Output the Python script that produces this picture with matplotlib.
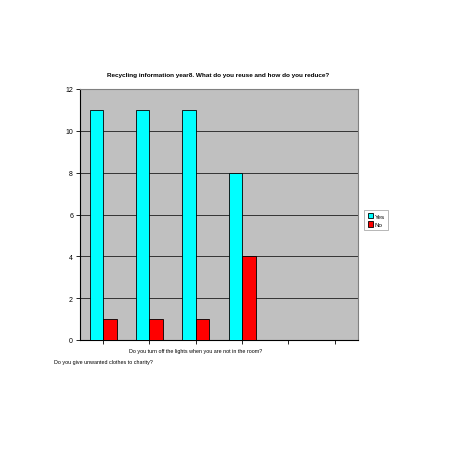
import matplotlib.pyplot as plt
import numpy as np

plt.rcParams['font.family'] = ['Liberation Sans', 'DejaVu Sans']

# Chart data
categories = ["Do you give unwanted clothes to charity?", "",
              "Do you turn off the lights when you are not in the room?", "",
              "", ""]
yes_values = [11, 11, 11, 8, 0, 0]
no_values = [1, 1, 1, 4, 0, 0]
y_ticks = [0, 2, 4, 6, 8, 10, 12]

fig = plt.figure(figsize=(4.52, 4.52), dpi=100)
ax = fig.add_axes([80 / 452, 1 - 341 / 452, 278 / 452, 251 / 452])
ax.set_facecolor("#C0C0C0")

x = np.arange(len(categories))
w = 0.29
ax.bar(x - w / 2, yes_values, w, color="#00FFFF", edgecolor="black", linewidth=0.6,
       label="Yes", zorder=3)
ax.bar(x + w / 2, no_values, w, color="#FF0000", edgecolor="black", linewidth=0.6,
       label="No", zorder=3)

ax.set_xlim(-0.5, len(categories) - 0.5)
ax.set_ylim(0, 12)
ax.set_yticks(y_ticks)
ax.tick_params(axis="y", labelsize=5, length=3, width=0.6, pad=2)
ax.yaxis.grid(True, color="#333333", linewidth=0.7, zorder=0)

ax.set_xticks(x)
ax.set_xticklabels([])
ax.tick_params(axis="x", length=3, width=0.6, direction="out")

# staggered category labels
for i, lab in enumerate(categories):
    if lab:
        ax.annotate(lab, xy=(i, 0), xycoords=("data", "axes fraction"),
                    xytext=(0, -7.5 if i % 4 == 2 else -15.5), textcoords="offset points",
                    ha="center", va="center", fontsize=3.85)

for side in ["top", "right"]:
    ax.spines[side].set_color("#808080")
for side in ["left", "bottom"]:
    ax.spines[side].set_color("black")
for s in ax.spines.values():
    s.set_linewidth(0.8)

fig.text(218 / 452, 1 - 75 / 452,
         "Recycling information year8. What do you reuse and how do you reduce?",
         ha="center", va="center", fontsize=4.6, fontweight="bold")

leg = ax.legend(loc="center left", bbox_to_anchor=(1.012, 0.478), fontsize=4.5,
                frameon=True, fancybox=False, edgecolor="#808080",
                handlelength=0.8, handleheight=0.9, handletextpad=0.3,
                borderpad=0.5, labelspacing=0.45)
leg.get_frame().set_linewidth(0.5)

fig.savefig("out.png", dpi=100, facecolor="white")
